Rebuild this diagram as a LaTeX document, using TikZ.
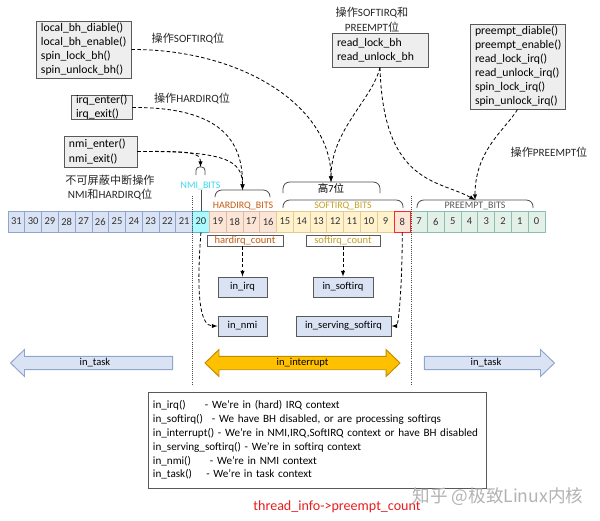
\documentclass[tikz,border=0pt]{standalone}
\usepackage{fontspec}
\setmainfont{Carlito}
\newfontfamily\cjk{Noto Sans CJK SC}
\usetikzlibrary{positioning,shapes.arrows,calc}
\definecolor{TaskBlue}{RGB}{218,227,243}
\definecolor{TaskEdge}{RGB}{143,165,205}
\definecolor{NmiCyan}{RGB}{170,250,255}
\definecolor{NmiEdge}{RGB}{90,180,210}
\definecolor{NmiText}{RGB}{60,215,240}
\definecolor{HardFill}{RGB}{251,229,214}
\definecolor{HardEdge}{RGB}{225,185,160}
\definecolor{HardText}{RGB}{197,90,17}
\definecolor{SoftFill}{RGB}{255,242,204}
\definecolor{SoftEdge}{RGB}{225,205,145}
\definecolor{SoftText}{RGB}{196,160,40}
\definecolor{PreFill}{RGB}{226,240,232}
\definecolor{PreEdge}{RGB}{140,190,180}
\definecolor{BoxGray}{RGB}{238,238,238}
\definecolor{LineGray}{RGB}{89,89,89}
\definecolor{IntOrange}{RGB}{255,192,0}
\definecolor{IntEdge}{RGB}{190,140,0}
\definecolor{CtxRed}{RGB}{230,30,30}
\newcommand{\zh}[1]{{\cjk #1}}
\tikzset{>=latex}
\tikzset{bitcell/.style={draw,line width=0.6pt,minimum width=0.5034cm,minimum height=0.63cm,inner sep=0pt,text=black!80,font=\fontsize{9}{10}\selectfont}}
\tikzset{apibox/.style={draw=LineGray,line width=0.8pt,fill=BoxGray,align=left,inner xsep=0.15cm,inner ysep=0pt,font=\fontsize{10}{12}\selectfont}}
\tikzset{funcbox/.style={draw=LineGray,line width=0.8pt,fill=TaskBlue,minimum height=0.6cm,inner sep=0pt,font=\fontsize{9}{10}\selectfont}}
\tikzset{countbox/.style={draw=LineGray,line width=0.6pt,fill=white,minimum height=0.33cm,inner sep=0pt,font=\fontsize{9}{10}\selectfont}}
\tikzset{opnote/.style={align=center,inner sep=0pt,text=black!85,font=\fontsize{9.5}{13}\selectfont}}
\tikzset{bitlabel/.style={inner sep=0pt,font=\fontsize{8.5}{10}\selectfont}}
\tikzset{bracket/.style={draw=black!70,line width=0.7pt,rounded corners=0.2cm}}
\tikzset{opline/.style={->,densely dashed,line width=0.7pt}}
\tikzset{vline/.style={densely dotted,line width=0.8pt,black!70}}
\tikzset{taskarrow/.style={single arrow,draw=TaskEdge,fill=TaskBlue,line width=0.8pt,minimum width=0.81cm,single arrow head extend=0.2cm,single arrow tip angle=88,inner ysep=0.05cm,font=\fontsize{9}{10}\selectfont}}
\tikzset{intarrow/.style={double arrow,draw=IntEdge,fill=IntOrange,line width=0.8pt,minimum width=0.81cm,double arrow head extend=0.2cm,double arrow tip angle=88,inner ysep=0.05cm,font=\fontsize{9}{10}\selectfont}}
\begin{document}
\begin{tikzpicture}[x=0.03cm,y=-0.03cm]
    \useasboundingbox (0,0) rectangle (600,520);
    % API boxes and notes
    \node[apibox,text width=2.55cm,minimum height=1.71cm] (apiBh) at (83.5,49.5) {local\_bh\_diable()\\local\_bh\_enable()\\spin\_lock\_bh()\\spin\_unlock\_bh()};
    \node[apibox,text width=1.53cm,minimum height=0.69cm] (apiIrq) at (101.5,107.5) {irq\_enter()\\irq\_exit()};
    \node[apibox,text width=1.89cm,minimum height=0.93cm] (apiNmi) at (100.5,151.5) {nmi\_enter()\\nmi\_exit()};
    \node[apibox,text width=2.58cm,minimum height=1.02cm] (apiRcu) at (380,50) {read\_lock\_bh\\read\_unlock\_bh};
    \node[apibox,text width=2.55cm,minimum height=2.55cm] (apiPre) at (517.5,66.5) {preempt\_diable()\\preempt\_enable()\\read\_lock\_irq()\\read\_unlock\_irq()\\spin\_lock\_irq()\\spin\_unlock\_irq()};
    \node[opnote] (noteSoft) at (188,39) {\zh{操作}SOFTIRQ\zh{位}};
    \node[opnote] (noteHard) at (192,99) {\zh{操作}HARDIRQ\zh{位}};
    \node[opnote] (noteBoth) at (372,19.5) {\zh{操作}SOFTIRQ\zh{和}\\PREEMPT\zh{位}};
    \node[opnote] (notePre) at (549,152) {\zh{操作}PREEMPT\zh{位}};
    \node[opnote,font=\fontsize{9.5}{12}\selectfont] (noteNmi) at (110,188) {\zh{不可屏蔽中断操作}\\NMI\zh{和}HARDIRQ\zh{位}};
    % the 32 bits
    \foreach \b in {31,...,21}
        \node[bitcell,fill=TaskBlue,draw=TaskEdge] (b\b) at ({8+16.78*(31.5-\b)},221.5) {\b};
    \node[bitcell,fill=NmiCyan,draw=NmiEdge] (b20) at ({8+16.78*11.5},221.5) {20};
    \foreach \b in {19,...,16}
        \node[bitcell,fill=HardFill,draw=HardEdge] (b\b) at ({8+16.78*(31.5-\b)},221.5) {\b};
    \foreach \b in {15,...,9}
        \node[bitcell,fill=SoftFill,draw=SoftEdge] (b\b) at ({8+16.78*(31.5-\b)},221.5) {\b};
    \foreach \b in {7,...,0}
        \node[bitcell,fill=PreFill,draw=PreEdge] (b\b) at ({8+16.78*(31.5-\b)},221.5) {\b};
    \node[bitcell,fill=HardFill,draw=red!85] (b8) at ({8+16.78*23.5},221.5) {8};
    % brackets over the bit groups
    \draw[bracket,rounded corners=0.1cm] (196,175) -- (196,167) -- (205,167) -- (205,175);
    \draw[bracket] (215,197) -- (215,190) -- (270,190) -- (270,197);
    \draw[bracket] (283,193) -- (283,182) -- (380,182) -- (380,193);
    \draw[bracket] (283,208) -- (283,200) -- (403,200) -- (403,208);
    \draw[bracket] (417,208) -- (417,200) -- (533,200) -- (533,208);
    \node[bitlabel,text=NmiText] (nminame) at (200.5,186) {NMI\_BITS};
    \node[bitlabel,text=HardText] (hardname) at (243,205.5) {HARDIRQ\_BITS};
    \node[bitlabel,font=\fontsize{9}{10}\selectfont] (highname) at (331,188.5) {\zh{高}7\zh{位}};
    \node[bitlabel,text=SoftText] (softname) at (343,206) {SOFTIRQ\_BITS};
    \node[bitlabel,text=black!65] (prename) at (475,206) {PREEMPT\_BITS};
    \draw[black!70,line width=0.7pt] (nminame.south -| b20.north) -- (b20.north);
    \coordinate (nmitop) at (200.5,167);
    \coordinate (hardtop) at (242.5,190);
    \coordinate (hightop) at (331,182);
    \coordinate (pretop) at (475,200);
    % dotted borders of the interrupt context
    \coordinate (vtop) at (0,196);
    \coordinate (vbot) at (0,384);
    \draw[vline] (b20.west |- vtop) -- (b20.west |- vbot);
    \draw[vline] (b8.east |- vtop) -- (b8.east |- vbot);
    % which calls touch which bits
    \draw[opline] (apiBh.east) .. controls (240,49) and (331,105) .. (hightop);
    \draw[opline] (apiRcu.south) .. controls (372,100) and (331,130) .. (hightop);
    \draw[opline] (apiRcu.south) .. controls (383,185) and (440,180) .. (pretop);
    \draw[opline] (apiPre.south) .. controls (505,130) and (475,150) .. (pretop);
    \draw[opline] (apiIrq.east) .. controls (220,107) and (243,140) .. (hardtop);
    \draw[opline] (apiNmi.east) .. controls (190,151) and (200.5,152) .. (nmitop);
    \draw[opline] (apiNmi.east) .. controls (225,151) and (242.5,160) .. (hardtop);
    % counts and helpers
    \node[countbox,text=HardText,minimum width=2.28cm] (hardcnt) at (245,240.5) {hardirq\_count};
    \node[countbox,text=SoftText,minimum width=2.22cm] (softcnt) at (343,240.5) {softirq\_count};
    \node[funcbox,minimum width=1.47cm] (inirq) at (242.5,287) {in\_irq};
    \node[funcbox,minimum width=1.8cm] (insoft) at (343,287) {in\_softirq};
    \node[funcbox,minimum width=1.47cm] (innmi) at (242.5,326) {in\_nmi};
    \node[funcbox,minimum width=2.85cm] (inserv) at (343.5,326) {in\_serving\_softirq};
    \draw[opline] (hardcnt.south -| inirq.north) -- (inirq.north);
    \draw[opline] (softcnt.south) -- (insoft.north);
    \draw[opline] (b20.south) .. controls (196,295) and (200,326) .. (innmi.west);
    \draw[opline] (b8.south) .. controls (402,295) and (398,326) .. (inserv.east);
    % contexts
    \node[taskarrow,shape border rotate=180,minimum height=4.86cm] (tasklft) at (95,363) {in\_task};
    \node[intarrow,minimum height=5.85cm] (intctx) at (302.5,363) {in\_interrupt};
    \node[taskarrow,minimum height=3.9cm] (taskrgt) at (486,363) {in\_task};
    \node[draw=LineGray,line width=0.8pt,fill=white,text width=9.84cm,minimum height=2.88cm,align=left,inner xsep=0.15cm,font=\fontsize{9.5}{11.8}\selectfont] (desc) at (317,440) {%
        \makebox[1.56cm][l]{in\_irq()}- We're in (hard) IRQ context\\
        \makebox[1.77cm][l]{in\_softirq()}- We have BH disabled, or are processing softirqs\\
        in\_interrupt() - We're in NMI,IRQ,SoftIRQ context or have BH disabled\\
        in\_serving\_softirq() - We're in softirq context\\
        \makebox[1.71cm][l]{in\_nmi()}- We're in NMI context\\
        \makebox[1.6cm][l]{in\_task()}- We're in task context};
    \node[text=CtxRed,font=\fontsize{12}{14}\selectfont] (ctxname) at (337,507) {thread\_info->preempt\_count};
    \node[text=black!30,font=\cjk\fontsize{15}{17}\selectfont] (mark) at (498,497) {知乎 @极致Linux内核};
\end{tikzpicture}
\end{document}
